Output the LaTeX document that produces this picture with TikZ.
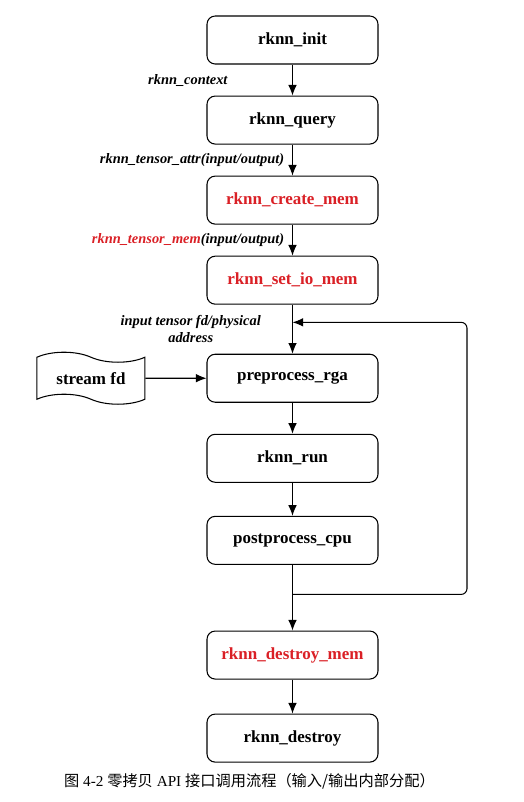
\documentclass[tikz,border=0pt]{standalone}
\usepackage{fontspec}
\setmainfont{Liberation Serif}
\newfontfamily\cjk{Noto Sans CJK SC}
\usepackage{xcolor}
\usepackage{tikz}
\usetikzlibrary{positioning,arrows.meta,shapes.symbols,calc}
\definecolor{apired}{RGB}{218,32,38}

\begin{document}
\begin{tikzpicture}[
    node distance=0.93cm and 1.83cm,
    apibox/.style={rectangle,draw=black,line width=0.9pt,rounded corners=7pt,minimum width=5.13cm,minimum height=1.44cm,font=\fontsize{14.5}{17}\selectfont\bfseries,align=center},
    newapi/.style={apibox,text=apired},
    lbl/.style={font=\fontsize{12.3}{14.5}\selectfont\bfseries\itshape,align=center,inner sep=1pt},
    arrow/.style={-{Latex[length=3.2mm,width=2.6mm]},line width=0.9pt,black}
]
\useasboundingbox (0,0) rectangle (15.69,-24.06);

\node[apibox] (init) at (8.775,-1.2) {rknn\_init};
\node[apibox,below=of init] (query) {rknn\_query};
\node[newapi,below=of query] (create) {rknn\_create\_mem};
\node[newapi,below=of create] (setio) {rknn\_set\_io\_mem};
\node[apibox,below=1.47cm of setio] (rga) {preprocess\_rga};
\node[apibox,below=of rga] (run) {rknn\_run};
\node[apibox,below=0.99cm of run] (cpu) {postprocess\_cpu};
\node[newapi,below=1.97cm of cpu] (dmem) {rknn\_destroy\_mem};
\node[apibox,below=1.02cm of dmem] (destroy) {rknn\_destroy};

\node[tape,draw=black,line width=0.9pt,tape bend top=out and in,tape bend bottom=out and in,tape bend height=0.3cm,minimum width=3.24cm,minimum height=1.56cm,font=\fontsize{14.5}{17}\selectfont\bfseries,left=of rga] (stream) {stream fd};

\draw[arrow] (init) -- node[lbl,left=1.9cm] {rknn\_context} (query);
\draw[arrow] (query) -- node[lbl,left=0.2cm] {rknn\_tensor\_attr(input/output)} (create);
\draw[arrow] (create) -- node[lbl,left=0.2cm] {\textcolor{apired}{rknn\_tensor\_mem}(input/output)} (setio);
\draw[arrow] (setio) -- node[lbl,left=0.9cm] {input tensor fd/physical\\address} (rga);
\draw[arrow] (rga) -- (run);
\draw[arrow] (run) -- (cpu);
\draw[arrow] (cpu) -- (dmem);
\draw[arrow] (dmem) -- (destroy);
\draw[arrow] (stream) -- (rga);

% loop back from postprocess to preprocess
\coordinate (loopout) at ($(cpu.south)!0.45!(dmem.north)$);
\coordinate (loopin) at ($(setio.south)!0.36!(rga.north)$);
\draw[arrow,rounded corners=5pt] (loopout) -- ++(5.235,0) |- (loopin);

\node[font=\fontsize{13}{15}\selectfont,anchor=west] (caption) at (1.8,-23.45) {{\cjk 图} 4-2 {\cjk 零拷贝} API {\cjk 接口调用流程（输入/输出内部分配）}};

\end{tikzpicture}
\end{document}
